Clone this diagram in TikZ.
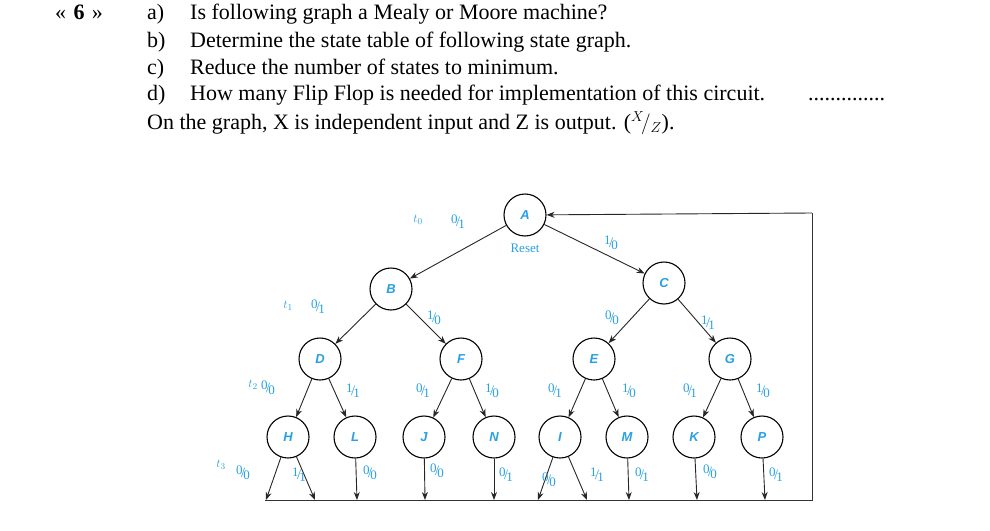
\documentclass[tikz,border=0pt]{standalone}
\usepackage{fontspec}
\setmainfont{Liberation Serif}
\newfontfamily\lblfont{Liberation Sans}
\usetikzlibrary{arrows.meta}
\definecolor{lblue}{RGB}{40,160,225}
\newcommand{\fr}[2]{\raisebox{0.45ex}{#1}\kern-0.12em{\Large/}\kern-0.12em\raisebox{-0.35ex}{#2}}
\tikzset{
  st/.style={circle,draw,line width=1.1pt,minimum size=42pt,inner sep=0pt,
    font=\lblfont\bfseries\itshape\fontsize{13}{15}\selectfont,text=lblue},
  lb/.style={font=\fontsize{13}{15}\selectfont,text=lblue,inner sep=1pt},
  tr/.style={-{Stealth[length=8pt,width=6pt]},line width=0.9pt,draw=black!85},
  q/.style={font=\fontsize{22}{26}\selectfont,anchor=base west,inner sep=0pt}
}
\begin{document}
\begin{tikzpicture}[x=1pt,y=-1pt]
\useasboundingbox (0,0) rectangle (990,530);
% question text
\node[q] (n6) at (55,19) {«\,\,\textbf{6}\,\,»};
\foreach \y/\l/\t in {19/a)/Is following graph a Mealy or Moore machine?,
  47/b)/Determine the state table of following state graph.,
  74/c)/Reduce the number of states to minimum.,
  100/d)/How many Flip Flop is needed for implementation of this circuit.}
  {\node[q] at (147,\y) {\l}; \node[q] at (190,\y) {\t};}
\node[q] (dots) at (808,100) {..............};
\node[q] (qe) at (147,129) {On the graph, X is independent input and Z is output. ($^{X}\!/_{Z}$).};
% states
\node[st] (A) at (525,215) {A};
\node[st] (B) at (391,289) {B};
\node[st] (C) at (664,283) {C};
\node[st] (D) at (320,359) {D};
\node[st] (F) at (461,359) {F};
\node[st] (E) at (594,359) {E};
\node[st] (G) at (730,359) {G};
\node[st] (H) at (288,437) {H};
\node[st] (L) at (355,437) {L};
\node[st] (J) at (424,437) {J};
\node[st] (N) at (494,437) {N};
\node[st] (I) at (560,437) {I};
\node[st] (M) at (627,437) {M};
\node[st] (K) at (694,437) {K};
\node[st] (P) at (762,437) {P};
% bottom ends
\foreach \n/\x in {h0/266,h1/315,l0/357,j0/425,n0/494,i0/538,i1/587,m0/629,k0/697,p0/765}
  \coordinate (\n) at (\x,500);
\coordinate (bl) at (265,500);
\coordinate (br) at (812,500);
\coordinate (tr) at (812,213);
% transitions
\draw[tr] (A) -- (B); \draw[tr] (A) -- (C);
\draw[tr] (B) -- (D); \draw[tr] (B) -- (F);
\draw[tr] (C) -- (E); \draw[tr] (C) -- (G);
\draw[tr] (D) -- (H); \draw[tr] (D) -- (L);
\draw[tr] (F) -- (J); \draw[tr] (F) -- (N);
\draw[tr] (E) -- (I); \draw[tr] (E) -- (M);
\draw[tr] (G) -- (K); \draw[tr] (G) -- (P);
\draw[tr] (H) -- (h0); \draw[tr] (H) -- (h1);
\draw[tr] (L) -- (l0); \draw[tr] (J) -- (j0);
\draw[tr] (N) -- (n0);
\draw[tr] (I) -- (i0); \draw[tr] (I) -- (i1);
\draw[tr] (M) -- (m0); \draw[tr] (K) -- (k0);
\draw[tr] (P) -- (p0);
\draw[line width=1pt,draw=black!80] (bl) -- (br) -- (tr);
\draw[tr] (tr) -- (A);
% labels
\node[lb] (t0) at (418,220) {$t_0$};
\node[lb] (t1) at (288,306) {$t_1$};
\node[lb] (t2) at (253,385) {$t_2$};
\node[lb] (t3) at (221,465) {$t_3$};
\node[lb] (rs) at (525,248) {Reset};
\foreach \x/\y/\a/\b in {458/222/0/1, 611/243/1/0, 318/307/0/1, 434/318/1/0,
  612/318/0/0, 708/323/1/1, 268/388/0/0, 353/391/1/1, 423/391/0/1, 492/391/1/0,
  555/391/0/1, 629/391/1/0, 690/391/0/1, 763/391/1/0,
  243/473/0/0, 299/475/1/1, 370/473/0/0, 437/471/0/0, 506/475/0/1,
  549/480/0/0, 597/475/1/1, 642/475/0/1, 710/472/0/0, 776/475/0/1}
  \node[lb] at (\x,\y) {\fr{\a}{\b}};
\end{tikzpicture}
\end{document}
